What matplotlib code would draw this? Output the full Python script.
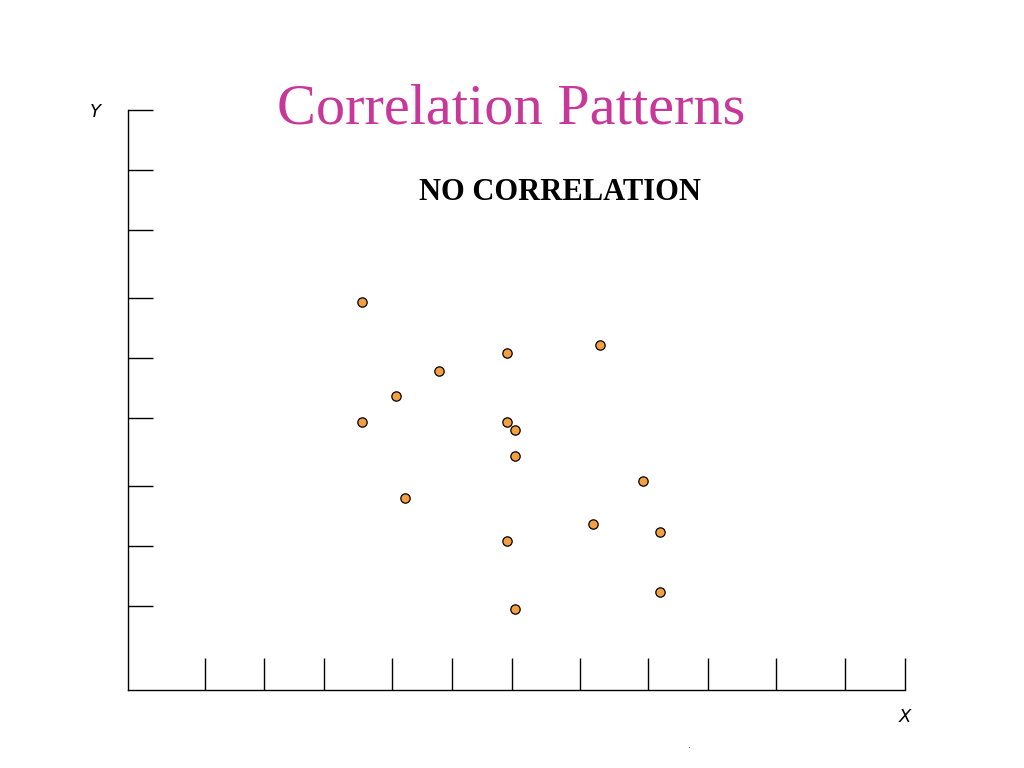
import matplotlib
matplotlib.use("Agg")
import matplotlib.pyplot as plt

# data in screen-like units (x from left, y up from baseline)
xs = [362, 507, 600, 439, 396, 362, 507, 515, 515, 643, 405, 593, 660, 507, 660, 515]
ys_px = [302, 353, 345, 371, 396, 422, 422, 430, 456, 481, 498, 524, 532, 541, 592, 609]
ys = [690 - v for v in ys_px]
xticks = [205, 264, 324, 392, 452, 512, 580, 648, 708, 776, 845, 905]
yticks = [690 - v for v in [110, 170, 230, 298, 358, 418, 486, 546, 606]]

fig = plt.figure(figsize=(10.24, 7.68), dpi=100)
ax = fig.add_axes([128/1024, 78/768, (905-128)/1024, 580/768])
ax.set_xlim(128, 905)
ax.set_ylim(0, 580)
ax.scatter(xs, ys, s=45, c="#F5A040", edgecolors="black", linewidths=0.9, zorder=3, clip_on=False)
ax.set_xticks(xticks)
ax.set_yticks(yticks)
ax.tick_params(axis="x", direction="in", length=23, width=1, labelbottom=False)
ax.tick_params(axis="y", direction="in", length=18, width=1, labelleft=False)
for s in ["top", "right"]:
    ax.spines[s].set_visible(False)
for s in ["left", "bottom"]:
    ax.spines[s].set_linewidth(1)

fig.text(511/1024, 1 - 110/768, "Correlation Patterns", color="#C8379A", family="Liberation Serif",
         fontsize=42, ha="center", va="center")
fig.text(560/1024, 1 - 193/768, "NO CORRELATION", color="black", family="Liberation Serif",
         fontsize=22, fontweight="bold", ha="center", va="center")
fig.text(95/1024, 1 - 112/768, "Y", fontsize=13, style="italic", ha="center", va="center")
fig.text(905/1024, 1 - 717/768, "X", fontsize=13, style="italic", ha="center", va="center")
fig.text(688/1024, 1 - 745/768, ".", fontsize=6, ha="center", va="center")
fig.savefig("out.png", dpi=100)
